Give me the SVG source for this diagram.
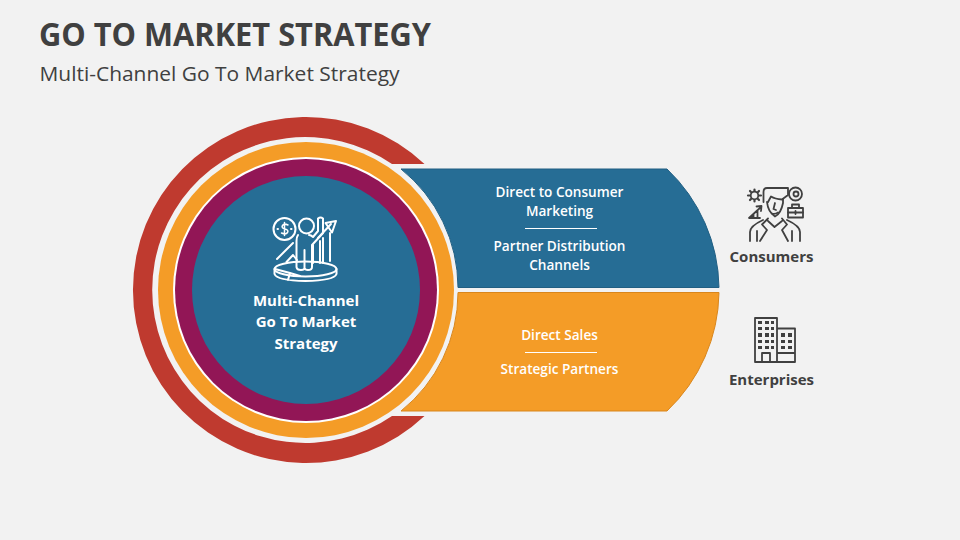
<svg xmlns="http://www.w3.org/2000/svg" width="960" height="540" viewBox="0 0 960 540">
<style>
text{font-family:"Open Sans","Liberation Sans",sans-serif}
.t{font-size:13.600px;font-weight:600;fill:#fff;text-anchor:middle}
.c{font-size:15px;font-weight:700;fill:#fff;text-anchor:middle}
.l{font-size:15px;font-weight:700;fill:#404040;text-anchor:middle}
.w{fill:none;stroke:#fff;stroke-width:2;stroke-linejoin:round;stroke-linecap:round}
.g{fill:none;stroke:#404040;stroke-width:1.800;stroke-linejoin:round;stroke-linecap:round}
.win{fill:#404040}
.div{stroke:#fff;stroke-width:1}
</style>
<rect width="960" height="540" fill="#f2f2f2"/>
<text id="title" x="39" y="45.500" font-size="32" font-weight="700" fill="#404040" textLength="392" lengthAdjust="spacingAndGlyphs">GO TO MARKET STRATEGY</text>
<text id="subtitle" x="39.500" y="81" font-size="20" fill="#404040" textLength="360" lengthAdjust="spacingAndGlyphs">Multi-Channel Go To Market Strategy</text>
<g id="connectors"></g>
<g id="outer-ring"><path d="M424.500 164A173 173 0 1 0 424.500 416H392A153 153 0 1 1 392 164Z" fill="#bf3a2f"/></g>
<g id="panel-blue">
<path d="M401 169H667A167 167 0 0 1 719 287.500H458A152.500 152.500 0 0 0 401 169Z" fill="#266d95" stroke="#215f83" stroke-width="1"/>
<text class="t" x="559.500" y="197">Direct to Consumer</text>
<text class="t" x="559.500" y="216">Marketing</text>
<line class="div" x1="525" y1="228.500" x2="597" y2="228.500"/>
<text class="t" x="559.500" y="251">Partner Distribution</text>
<text class="t" x="559.500" y="270">Channels</text>
</g>
<g id="panel-orange">
<path d="M458 292.500H719A167 167 0 0 1 667 411H401A152.500 152.500 0 0 0 458 292.500Z" fill="#f49c27" stroke="#d9861c" stroke-width="1"/>
<text class="t" x="559.500" y="340">Direct Sales</text>
<line class="div" x1="525" y1="352.500" x2="597" y2="352.500"/>
<text class="t" x="559.500" y="374">Strategic Partners</text>
</g>
<g id="center">
<circle cx="306" cy="290" r="148" fill="#f49c27"/>
<circle cx="306" cy="290" r="133" fill="#fff"/>
<circle cx="306" cy="290" r="131" fill="#921656"/>
<circle cx="306" cy="290" r="114" fill="#266d95"/>
<g class="w">
<circle cx="284.500" cy="229" r="11"/>
<path d="M288 225Q284 223 282.500 225.500T285 229T287.500 232.500T281.500 233M284.500 222.500V235.500" stroke-width="1.500"/>
<path d="M277.500 229H278M291 229H291.500"/>
<circle cx="306.500" cy="226" r="7.500"/>
<path d="M298 235Q296.500 237 296.500 241V267Q297 270 301 270Q304.500 270 304.500 268V250M304.500 268Q305 270 308 270Q312 270 312 267V245L323 233V218.500Q320.500 216.500 318 218.500V231L313 237Q311 235 309 235"/>
<path d="M277 259L293 243M286.500 262L293 255L297 260"/>
<path d="M318 238L331 224M325.500 223L336 221L332 232.500Z"/>
<path d="M313 245V263M320 241V263M323 238V263M330 233V261"/>
<ellipse cx="305.500" cy="269" rx="31" ry="7.500"/>
<path d="M274.500 269V274Q277 280.500 305.500 281Q334 280.500 336.500 274V269M275 269L290 273L288 280M290 273L300 276"/>
</g>
<text class="c" x="306" y="306">Multi-Channel</text>
<text class="c" x="306" y="327">Go To Market</text>
<text class="c" x="306" y="349">Strategy</text>
</g>
<g id="consumers">
<g class="g">
<circle cx="754.500" cy="195.500" r="3.800"/>
<path d="M754.500 191V189.500M754.500 201.500V200M749.500 195.500H748M761 195.500H759.500M751 192L750 191M759 200L758 199M751 199L750 200M759 191L758 192" stroke-width="2.200"/>
<circle cx="795.500" cy="194" r="6.500"/>
<circle cx="796" cy="194" r="2.500"/>
<path d="M749 218L761 207M756.500 206.500L761.500 206L761 211M750 218H760M753.500 217.500V214.500M757.500 217.500V211"/>
<path d="M763.500 202V192Q763.500 188 767 188H788V195L782 199.500Q775 199 771 196.500L768 202"/>
<path d="M767 202Q768 212 775 216.500Q781 213.500 783 203V199"/>
<path d="M775 203L773.500 209L776 210M772 213.500Q775 214.500 778 212.500"/>
<rect x="788" y="208" width="15" height="9.500"/>
<path d="M792 208V204.500H799V208M788 212.500H803M795.500 211V214"/>
<path d="M750 241V232Q750 226 763 220M800 241V232Q800 226 787 220M768 218.500L762 224.500L767 230L760 241M782 218.500L787 224.500L782 230L788 241M768 221L774.500 227L782 221M757 241V231M792 241V231"/>
</g>
<text class="l" x="771.500" y="262">Consumers</text>
</g>
<g id="enterprises">
<g class="g">
<path d="M755 362V318H777V362ZM777 328.500H795V362H755M777 353H795M762 362V353H770V362"/>
</g>
<g class="win">
<rect x="758" y="321" width="4" height="3"/><rect x="765" y="321" width="4" height="3"/><rect x="771" y="321" width="3" height="3"/>
<rect x="758" y="327" width="4" height="3"/><rect x="765" y="327" width="4" height="3"/><rect x="771" y="327" width="3" height="3"/>
<rect x="758" y="333" width="4" height="4"/><rect x="765" y="333" width="4" height="4"/><rect x="771" y="333" width="3" height="4"/>
<rect x="758" y="340" width="4" height="3"/><rect x="765" y="340" width="4" height="3"/><rect x="771" y="340" width="3" height="3"/>
<rect x="758" y="346" width="4" height="3"/><rect x="765" y="346" width="4" height="3"/><rect x="771" y="346" width="3" height="3"/>
<rect x="781" y="333" width="4" height="4"/><rect x="788" y="333" width="4" height="4"/>
<rect x="781" y="340" width="4" height="3"/><rect x="788" y="340" width="4" height="3"/>
<rect x="781" y="346" width="4" height="3"/><rect x="788" y="346" width="4" height="3"/>
</g>
<text class="l" x="771.500" y="385">Enterprises</text>
</g>
</svg>
